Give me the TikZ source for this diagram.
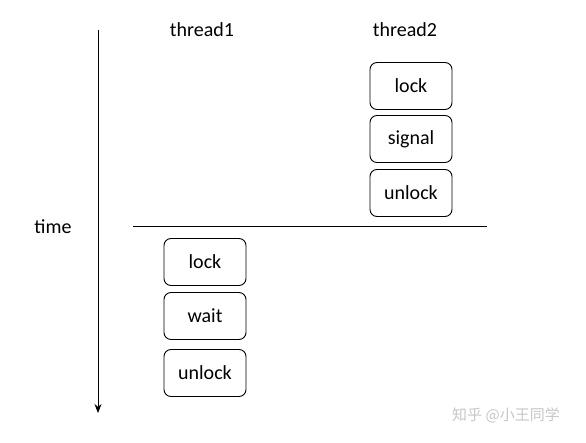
\documentclass[tikz,border=0pt]{standalone}
\usepackage{fontspec}
\setmainfont{Carlito}
\newfontfamily\cjk{Noto Sans CJK SC}
\usetikzlibrary{positioning, arrows.meta}
\tikzset{
	opbox/.style={draw, rounded corners=7pt, line width=0.9pt, minimum width=82pt, minimum height=47pt, inner sep=0pt, font=\fontsize{20}{24}\selectfont},
	lbl/.style={font=\fontsize{20}{24}\selectfont}
}
\begin{document}
\begin{tikzpicture}[x=1pt, y=-1pt, line join=round, >={Stealth[length=9pt, width=7pt]}]
	\useasboundingbox (0,0) rectangle (586,443);
	\path
	(98,30) coordinate (T0)
	(98,413) coordinate (T1)
	(133,226) coordinate (L0)
	(487,226) coordinate (L1);
	
	\node[lbl] (time) at (53,227) {time};
	\node[lbl] (th1) at (202,30) {thread1};
	\node[lbl] (th2) at (405,30) {thread2};
	
	\draw[->, line width=0.8pt] (T0)--(T1);
	\draw[line width=0.8pt] (L0)--(L1);
	
	% thread2 runs first
	\foreach \n/\t/\y in {sB1/lock/86, sB2/signal/139, sB3/unlock/193}
	\node[opbox] (\n) at (411,\y) {\t};
	
	% then thread1
	\foreach \n/\t/\y in {wA1/lock/262, wA2/wait/316, wA3/unlock/373}
	\node[opbox] (\n) at (205,\y) {\t};
	
	\node[text=gray!45, font=\cjk\fontsize{15}{18}\selectfont] (mark) at (506,415) {知乎 @小王同学};
\end{tikzpicture}
\end{document}
